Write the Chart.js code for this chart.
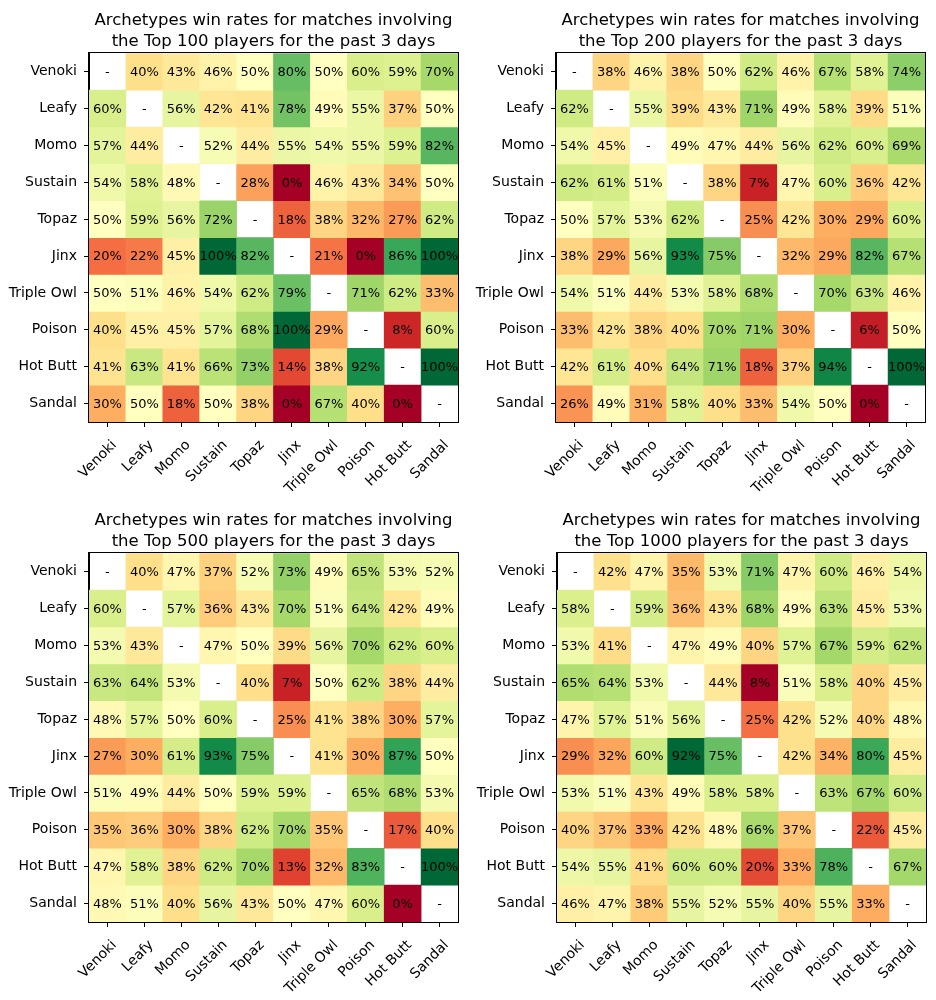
<!DOCTYPE html>
<html>
<head>
<meta charset="utf-8">
<script src="https://cdn.jsdelivr.net/npm/chart.js@4/dist/chart.umd.min.js"></script>
<style>
  body { margin: 0; background: #fff; }
  .grid { position: relative; width: 936px; height: 1000px; }
  .grid canvas { position: absolute; }
</style>
</head>
<body>
<div class="grid">
  <canvas id="top100" width="468" height="500" style="left:0;top:0"></canvas>
  <canvas id="top200" width="468" height="500" style="left:467px;top:0"></canvas>
  <canvas id="top500" width="468" height="500" style="left:0;top:500px"></canvas>
  <canvas id="top1000" width="468" height="500" style="left:468px;top:500px"></canvas>
</div>
<script>
const archetypes = ['Venoki', 'Leafy', 'Momo', 'Sustain', 'Topaz', 'Jinx', 'Triple Owl', 'Poison', 'Hot Butt', 'Sandal'];

// win rate (%) of row archetype vs column archetype, null = mirror match
const top100 = [
  [null, 40, 43, 46, 50, 80, 50, 60, 59, 70],
  [60, null, 56, 42, 41, 78, 49, 55, 37, 50],
  [57, 44, null, 52, 44, 55, 54, 55, 59, 82],
  [54, 58, 48, null, 28, 0, 46, 43, 34, 50],
  [50, 59, 56, 72, null, 18, 38, 32, 27, 62],
  [20, 22, 45, 100, 82, null, 21, 0, 86, 100],
  [50, 51, 46, 54, 62, 79, null, 71, 62, 33],
  [40, 45, 45, 57, 68, 100, 29, null, 8, 60],
  [41, 63, 41, 66, 73, 14, 38, 92, null, 100],
  [30, 50, 18, 50, 38, 0, 67, 40, 0, null],
];
const top200 = [
  [null, 38, 46, 38, 50, 62, 46, 67, 58, 74],
  [62, null, 55, 39, 43, 71, 49, 58, 39, 51],
  [54, 45, null, 49, 47, 44, 56, 62, 60, 69],
  [62, 61, 51, null, 38, 7, 47, 60, 36, 42],
  [50, 57, 53, 62, null, 25, 42, 30, 29, 60],
  [38, 29, 56, 93, 75, null, 32, 29, 82, 67],
  [54, 51, 44, 53, 58, 68, null, 70, 63, 46],
  [33, 42, 38, 40, 70, 71, 30, null, 6, 50],
  [42, 61, 40, 64, 71, 18, 37, 94, null, 100],
  [26, 49, 31, 58, 40, 33, 54, 50, 0, null],
];
const top500 = [
  [null, 40, 47, 37, 52, 73, 49, 65, 53, 52],
  [60, null, 57, 36, 43, 70, 51, 64, 42, 49],
  [53, 43, null, 47, 50, 39, 56, 70, 62, 60],
  [63, 64, 53, null, 40, 7, 50, 62, 38, 44],
  [48, 57, 50, 60, null, 25, 41, 38, 30, 57],
  [27, 30, 61, 93, 75, null, 41, 30, 87, 50],
  [51, 49, 44, 50, 59, 59, null, 65, 68, 53],
  [35, 36, 30, 38, 62, 70, 35, null, 17, 40],
  [47, 58, 38, 62, 70, 13, 32, 83, null, 100],
  [48, 51, 40, 56, 43, 50, 47, 60, 0, null],
];
const top1000 = [
  [null, 42, 47, 35, 53, 71, 47, 60, 46, 54],
  [58, null, 59, 36, 43, 68, 49, 63, 45, 53],
  [53, 41, null, 47, 49, 40, 57, 67, 59, 62],
  [65, 64, 53, null, 44, 8, 51, 58, 40, 45],
  [47, 57, 51, 56, null, 25, 42, 52, 40, 48],
  [29, 32, 60, 92, 75, null, 42, 34, 80, 45],
  [53, 51, 43, 49, 58, 58, null, 63, 67, 60],
  [40, 37, 33, 42, 48, 66, 37, null, 22, 45],
  [54, 55, 41, 60, 60, 20, 33, 78, null, 67],
  [46, 47, 38, 55, 52, 55, 40, 55, 33, null],
];

// matplotlib RdYlGn stops
const rdylgnStops = [
  [165, 0, 38], [215, 48, 39], [244, 109, 67], [253, 174, 97], [254, 224, 139],
  [255, 255, 191], [217, 239, 139], [166, 217, 106], [102, 189, 99], [26, 152, 80], [0, 104, 55],
];

function rdylgn(t) {
  t = Math.max(0, Math.min(1, t)) * (rdylgnStops.length - 1);
  const i = Math.min(Math.floor(t), rdylgnStops.length - 2);
  const f = t - i;
  const a = rdylgnStops[i], b = rdylgnStops[i + 1];
  const c = a.map((v, k) => Math.round(v + (b[k] - v) * f));
  return `rgb(${c[0]}, ${c[1]}, ${c[2]})`;
}

const cellLabels = {
  id: 'cellLabels',
  afterDatasetsDraw(chart, args, opts) {
    const { ctx, scales: { x, y } } = chart;
    ctx.save();
    ctx.font = '13px "DejaVu Sans"';
    ctx.fillStyle = '#000';
    ctx.textAlign = 'center';
    ctx.textBaseline = 'middle';
    opts.rates.forEach((row, r) => {
      row.forEach((v, c) => {
        ctx.fillText(v == null ? '-' : v + '%', x.getPixelForValue(c), y.getPixelForValue(r) + 1);
      });
    });
    ctx.restore();
  }
};

const frame = {
  id: 'frame',
  afterDraw(chart) {
    const { ctx, chartArea: a } = chart;
    ctx.save();
    ctx.strokeStyle = '#000';
    ctx.lineWidth = 1;
    ctx.strokeRect(Math.round(a.left) - 0.5, Math.round(a.top) - 0.5, Math.round(a.width) + 1, Math.round(a.height) + 1);
    ctx.restore();
  }
};

Chart.defaults.font.family = '"DejaVu Sans", sans-serif';
Chart.defaults.color = '#000';

function drawHeatmap(id, topN, rates) {
  const flat = rates.flat().filter(v => v != null);
  const lo = Math.min(...flat), hi = Math.max(...flat);

  const datasets = rates.map((row, r) => ({
    label: archetypes[r],
    data: row.map(v => v == null ? null : [r - 0.5, r + 0.5]),
    backgroundColor: row.map(v => v == null ? 'rgba(0,0,0,0)' : rdylgn((v - lo) / (hi - lo))),
    borderWidth: 0,
    barPercentage: 1,
    categoryPercentage: 1,
    grouped: false,
  }));

  new Chart(document.getElementById(id), {
    type: 'bar',
    data: { labels: archetypes, datasets },
    options: {
      responsive: false,
      animation: false,
      devicePixelRatio: 1,
      layout: { padding: { left: 0, right: 10, top: 0, bottom: 0 } },
      plugins: {
        legend: { display: false },
        tooltip: { enabled: false },
        title: {
          display: true,
          fullSize: false,
          text: ['Archetypes win rates for matches involving', `the Top ${topN} players for the past 3 days`],
          font: { size: 16.5, weight: 'normal', lineHeight: 1.28 },
          color: '#000',
          padding: { top: 10, bottom: 1 },
        },
        cellLabels: { rates },
      },
      scales: {
        x: {
          type: 'category',
          offset: true,
          grid: { offset: false, drawOnChartArea: false, tickLength: 5, color: '#000', tickColor: '#000' },
          border: { color: '#000' },
          ticks: { maxRotation: 45, minRotation: 45, padding: 10, labelOffset: 7, font: { size: 14 } },
          afterFit: s => { s.height = 78; },
        },
        y: {
          type: 'linear',
          reverse: true,
          min: -0.5,
          max: 9.5,
          afterBuildTicks: s => { s.ticks = archetypes.map((_, i) => ({ value: i })); },
          grid: { drawOnChartArea: false, tickLength: 5, color: '#000', tickColor: '#000' },
          border: { color: '#000' },
          ticks: { callback: v => archetypes[v], padding: 7, font: { size: 14 } },
          afterFit: s => { s.width = 89; },
        },
      },
    },
    plugins: [cellLabels, frame],
  });
}

drawHeatmap('top100', 100, top100);
drawHeatmap('top200', 200, top200);
drawHeatmap('top500', 500, top500);
drawHeatmap('top1000', 1000, top1000);
</script>
</body>
</html>
